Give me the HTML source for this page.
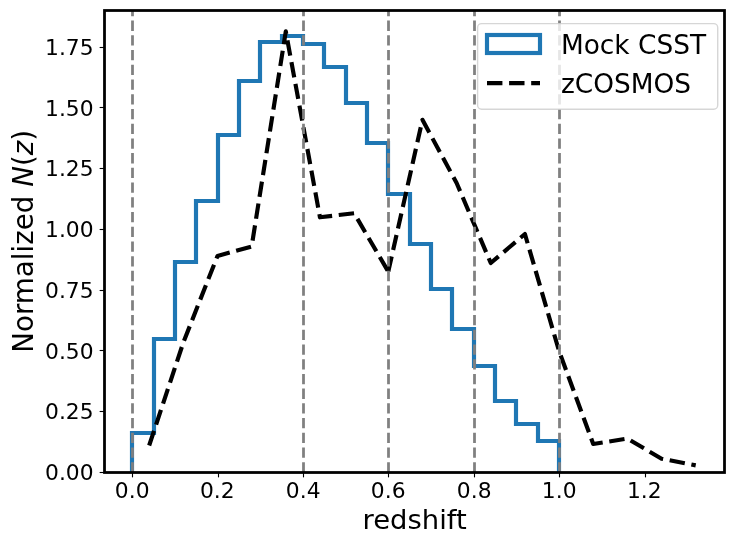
<!DOCTYPE html>
<html lang="en">
<head>
<meta charset="utf-8">
<title>Normalized N(z) vs redshift</title>
<style>
  html, body { margin:0; padding:0; background:#ffffff; }
  body { width:734px; height:545px; overflow:hidden; }
  svg { display:block; }
  text { font-family:'DejaVu Sans','Liberation Sans',sans-serif; fill:#000; }
  .tick { font-size:21.8px; }
  .axlabel { font-size:27.45px; }
  .leg { font-size:26.4px; }
  .it { font-style:oblique; }
</style>
</head>
<body>
<svg width="734" height="545" viewBox="0 0 734 545">
<rect x="0" y="0" width="734" height="545" fill="#ffffff"/>
<defs>
  <clipPath id="axclip"><rect x="104.5" y="10.5" width="620.0" height="462.0"/></clipPath>
</defs>
<g clip-path="url(#axclip)">
  <!-- Mock CSST step histogram -->
  <path d="M132 472.5V433H154V339H175V262H196V201H218V135H239V81H260V42H282V36H303V44H324V67H346V103H367V143H388V194H410V244H431V289H452V329H474V366H495V401H516V424H538V441H559V472.5" fill="none" stroke="#1f77b4" stroke-width="4.17" stroke-linejoin="miter"/>
  <!-- zCOSMOS dashed line -->
  <path d="M149.16 445.50 L183.32 342.50 L217.48 256.00 L251.64 246.50 L285.80 31.40 L319.96 217.30 L354.12 213.20 L388.28 271.60 M388.28 271.60 L422.44 119.80 L456.60 183.00 L490.76 263.00 L524.92 234.00 L559.08 351.20 L593.24 444.00 L627.40 438.60 L661.56 458.70 L695.72 465.40" fill="none" stroke="#000000" stroke-width="4.17" stroke-linejoin="round" stroke-linecap="butt" stroke-dasharray="15.42 6.67"/>
  <!-- redshift bin boundaries -->
  <g stroke="#808080" stroke-width="2.78" stroke-dasharray="10.28 4.44" fill="none">
    <line x1="132.5" y1="472.5" x2="132.5" y2="10.5"/>
    <line x1="303.5" y1="472.5" x2="303.5" y2="10.5"/>
    <line x1="388.5" y1="472.5" x2="388.5" y2="10.5"/>
    <line x1="474.5" y1="472.5" x2="474.5" y2="10.5"/>
    <line x1="559.5" y1="472.5" x2="559.5" y2="10.5"/>
  </g>
</g>
<g stroke="#000" stroke-width="1.11" fill="none">
  <line x1="132.5" y1="472.5" x2="132.5" y2="477.36"/>
  <line x1="218.5" y1="472.5" x2="218.5" y2="477.36"/>
  <line x1="303.5" y1="472.5" x2="303.5" y2="477.36"/>
  <line x1="388.5" y1="472.5" x2="388.5" y2="477.36"/>
  <line x1="474.5" y1="472.5" x2="474.5" y2="477.36"/>
  <line x1="559.5" y1="472.5" x2="559.5" y2="477.36"/>
  <line x1="645.5" y1="472.5" x2="645.5" y2="477.36"/>
  <line x1="104.5" y1="472.5" x2="99.64" y2="472.5"/>
  <line x1="104.5" y1="411.5" x2="99.64" y2="411.5"/>
  <line x1="104.5" y1="350.5" x2="99.64" y2="350.5"/>
  <line x1="104.5" y1="290.5" x2="99.64" y2="290.5"/>
  <line x1="104.5" y1="229.5" x2="99.64" y2="229.5"/>
  <line x1="104.5" y1="168.5" x2="99.64" y2="168.5"/>
  <line x1="104.5" y1="107.5" x2="99.64" y2="107.5"/>
  <line x1="104.5" y1="47.5" x2="99.64" y2="47.5"/>
</g>
<rect x="104.5" y="10.5" width="620.0" height="462.0" fill="none" stroke="#000" stroke-width="2.78" stroke-linejoin="miter"/>
<g class="tick" text-anchor="middle">
  <text x="132.2" y="498">0.0</text>
  <text x="217.3" y="498">0.2</text>
  <text x="303.2" y="498">0.4</text>
  <text x="388.2" y="498">0.6</text>
  <text x="474.2" y="498">0.8</text>
  <text x="559.2" y="498">1.0</text>
  <text x="644.3" y="498">1.2</text>
</g>
<g class="tick" text-anchor="end">
  <text x="93.6" y="480">0.00</text>
  <text x="93.6" y="419">0.25</text>
  <text x="93.6" y="359">0.50</text>
  <text x="93.6" y="298">0.75</text>
  <text x="93.6" y="237">1.00</text>
  <text x="93.6" y="176">1.25</text>
  <text x="93.6" y="116">1.50</text>
  <text x="93.6" y="55">1.75</text>
</g>
<text class="axlabel" text-anchor="middle" x="414.6" y="528.6">redshift</text>
<text class="axlabel" text-anchor="middle" transform="translate(33 241.3) rotate(-90) scale(1.01 1.05)">Normalized <tspan class="it">N</tspan>(<tspan class="it">z</tspan>)</text>
<g>
  <rect x="477.6" y="23.6" width="240.1" height="85.6" rx="4" ry="4" fill="#ffffff" fill-opacity="0.8" stroke="#cccccc" stroke-opacity="0.8" stroke-width="1.39"/>
  <rect x="487" y="35" width="53" height="18" fill="none" stroke="#1f77b4" stroke-width="4.17"/>
  <text class="leg" x="560.9" y="53.6">Mock CSST</text>
  <line x1="487" y1="83.1" x2="540" y2="83.1" stroke="#000" stroke-width="4.17" stroke-dasharray="15.42 6.67"/>
  <text class="leg" x="560.9" y="93.2">zCOSMOS</text>
</g>
</svg>
</body>
</html>
